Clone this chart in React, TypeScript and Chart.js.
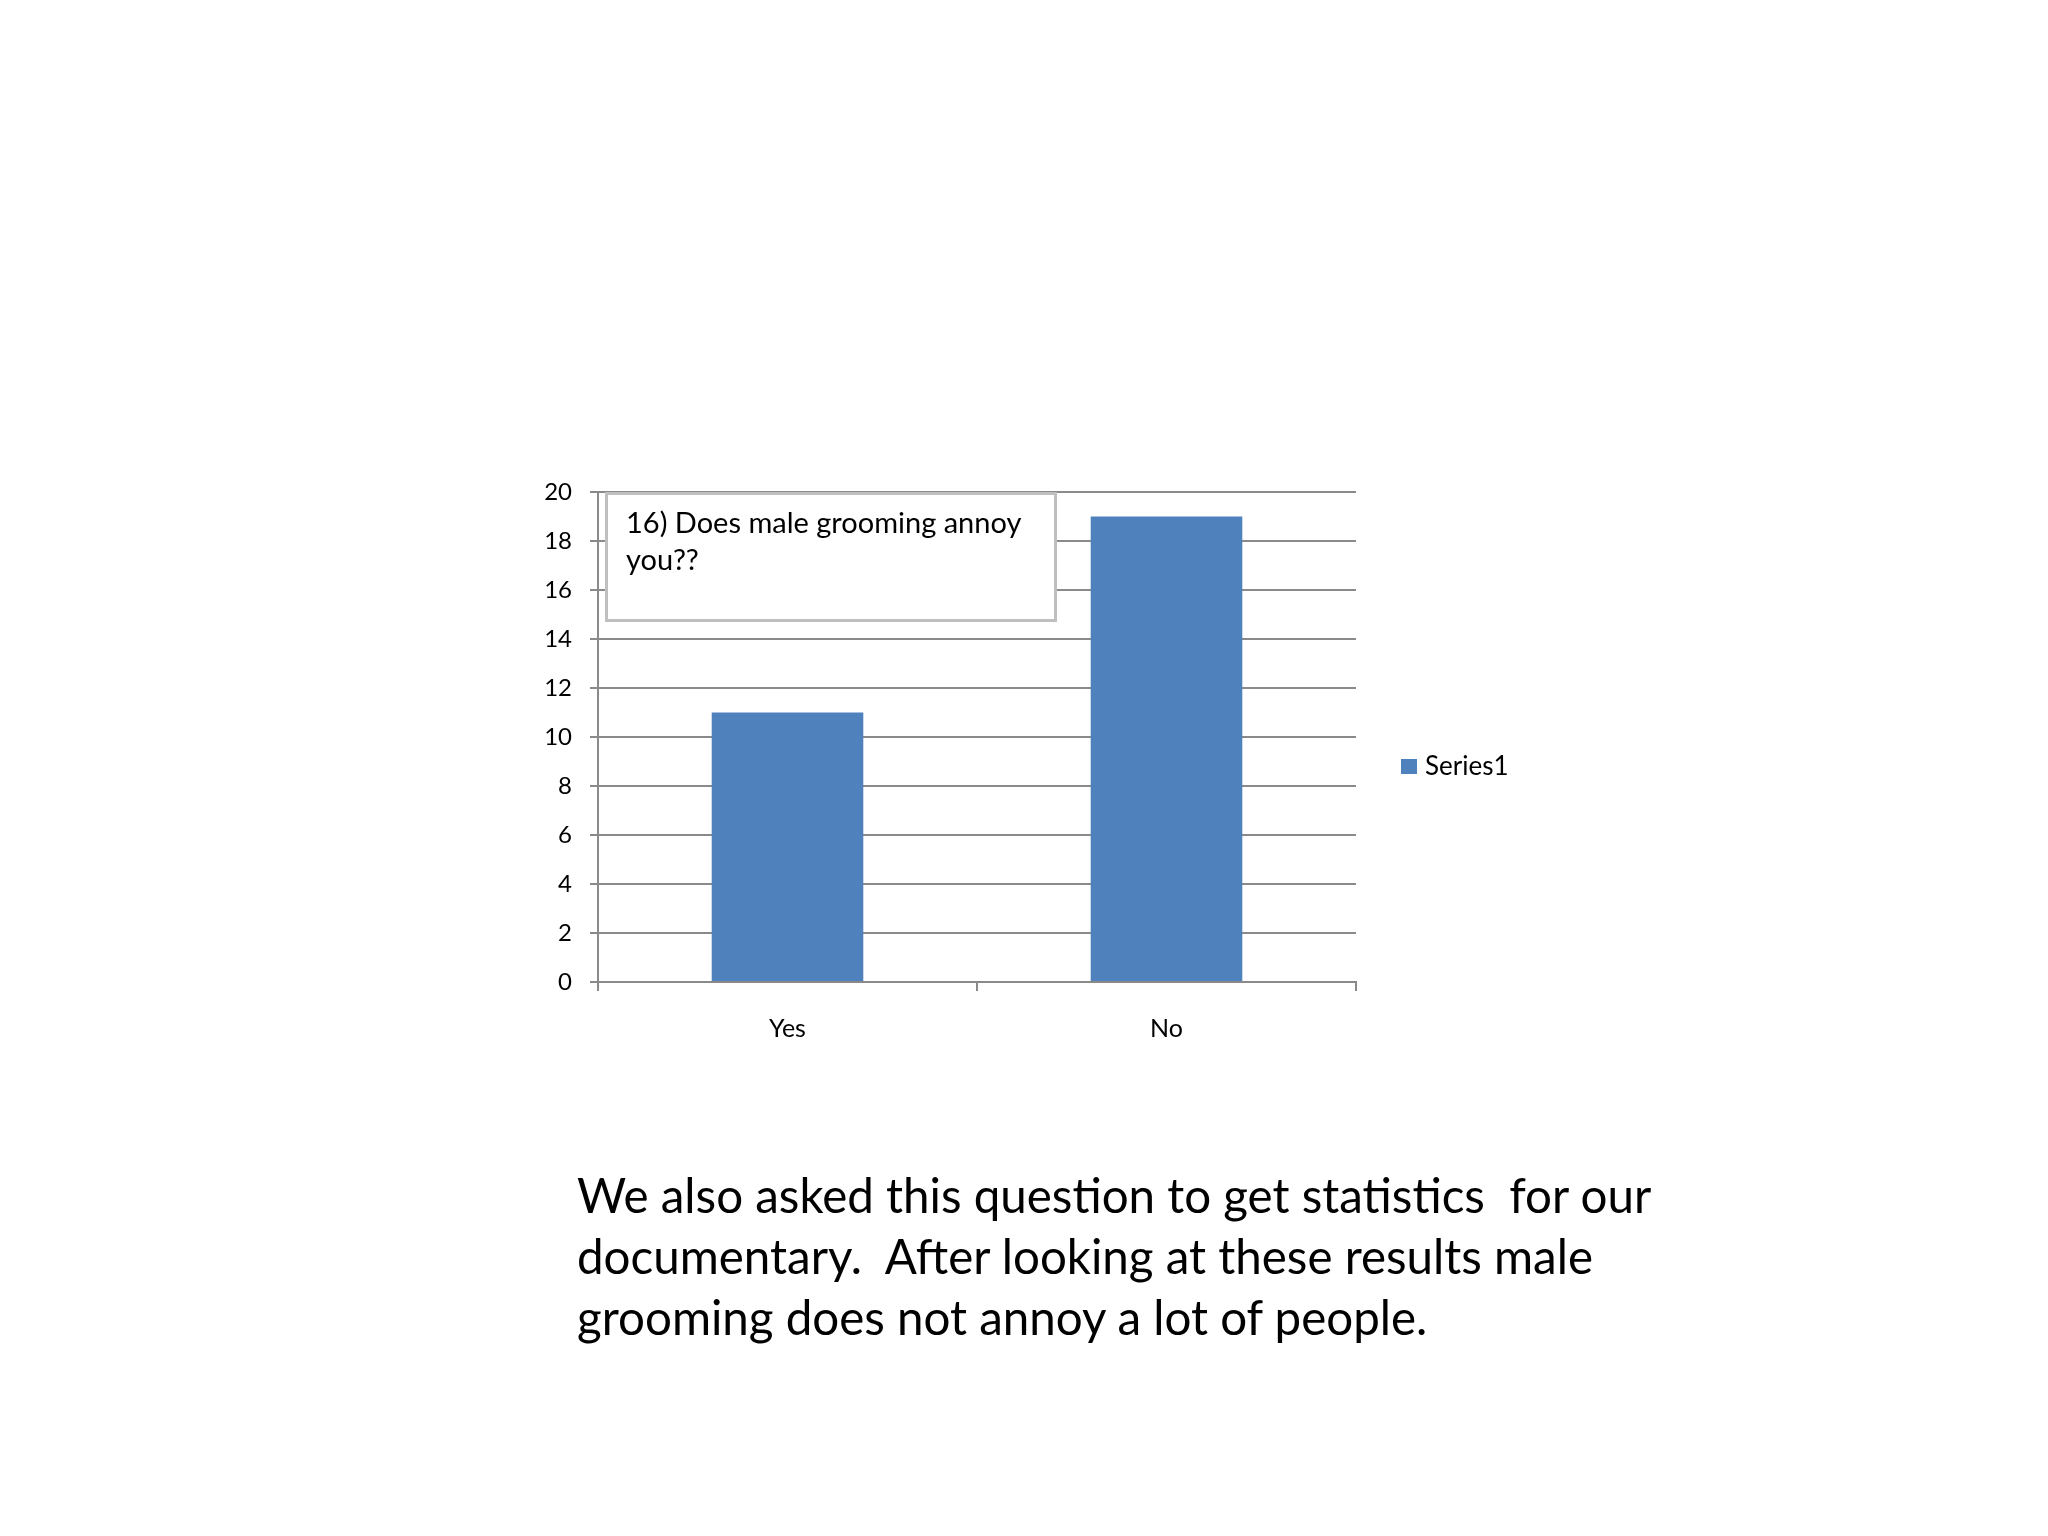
import React, { useEffect, useRef } from "react";
import { Chart, registerables } from "chart.js";

Chart.register(...registerables);

const categories: string[] = ["Yes", "No"];
const seriesName = "Series1";
const seriesValues: number[] = [11, 19];
const yTicks: number[] = [0, 2, 4, 6, 8, 10, 12, 14, 16, 18, 20];
const titleLines: string[] = ["16) Does male grooming annoy", "you??"];
const paragraphLines: string[] = [
  "We also asked this question to get statistics  for our",
  "documentary.  After looking at these results male",
  "grooming does not annoy a lot of people.",
];

const FONT = "Lato, 'Open Sans', sans-serif";
const BAR = "#4F81BD";
const GRID = "#8a8a8a";

const overlayPlugin = {
  id: "overlay",
  afterDraw(chart: any) {
    const { ctx, chartArea } = chart;
    ctx.save();
    // title box
    const bx = chartArea.left + 7;
    const by = chartArea.top;
    const bw = 452;
    const bh = 130;
    ctx.fillStyle = "#ffffff";
    ctx.fillRect(bx, by, bw, bh);
    ctx.strokeStyle = "#bfbfbf";
    ctx.lineWidth = 3;
    ctx.strokeRect(bx + 1.5, by + 1.5, bw - 3, bh - 3);
    ctx.fillStyle = "#000000";
    ctx.font = `29px ${FONT}`;
    ctx.textBaseline = "alphabetic";
    ctx.textAlign = "left";
    titleLines.forEach((line, i) => {
      ctx.fillText(line, bx + 21, by + 41 + i * 37);
    });
    // legend
    const ds = chart.data.datasets[0];
    const lx = chartArea.right + 45;
    const ly = (chartArea.top + chartArea.bottom) / 2 + 30;
    ctx.fillStyle = ds.backgroundColor;
    ctx.fillRect(lx, ly - 8, 16, 15);
    ctx.fillStyle = "#000000";
    ctx.font = `26px ${FONT}`;
    ctx.textBaseline = "middle";
    ctx.fillText(ds.label, lx + 24, ly);
    ctx.restore();
  },
};

export default function App() {
  const ref = useRef<HTMLCanvasElement | null>(null);

  useEffect(() => {
    if (!ref.current) return;
    const chart = new Chart(ref.current, {
      type: "bar",
      data: {
        labels: categories,
        datasets: [
          {
            label: seriesName,
            data: seriesValues,
            backgroundColor: BAR,
            borderWidth: 0,
            barPercentage: 0.4,
            categoryPercentage: 1,
          },
        ],
      },
      options: {
        animation: false,
        responsive: false,
        maintainAspectRatio: false,
        layout: { padding: { left: 500, right: 692, top: 492, bottom: 454 } },
        plugins: {
          legend: { display: false },
          tooltip: { enabled: false },
          title: { display: false },
        },
        scales: {
          x: {
            grid: {
              display: true,
              drawOnChartArea: false,
              drawTicks: true,
              tickLength: 9,
              color: GRID,
              lineWidth: 2,
              offset: true,
            },
            border: { display: true, color: GRID, width: 2 },
            ticks: {
              color: "#000000",
              font: { family: FONT, size: 25 },
              padding: 23,
            },
            afterFit: (scale: any) => {
              scale.height = 100;
            },
          },
          y: {
            min: 0,
            max: 20,
            afterBuildTicks: (scale: any) => {
              scale.ticks = yTicks.map((v) => ({ value: v }));
            },
            grid: {
              display: true,
              drawOnChartArea: true,
              drawTicks: true,
              tickLength: 8,
              color: GRID,
              lineWidth: 2,
            },
            border: { display: true, color: GRID, width: 2 },
            ticks: {
              color: "#000000",
              font: { family: FONT, size: 24 },
              padding: 18,
            },
            afterFit: (scale: any) => {
              scale.width = 98;
            },
          },
        },
      },
      plugins: [overlayPlugin],
    });
    return () => chart.destroy();
  }, []);

  return (
    <div style={{ position: "absolute", left: 0, top: 0, width: 2048, height: 1536, background: "#fff" }}>
      <canvas ref={ref} width={2048} height={1536} style={{ position: "absolute", left: 0, top: 0, width: 2048, height: 1536 }} />
      <div
        style={{
          position: "absolute",
          left: 577,
          top: 1164,
          fontFamily: FONT,
          fontSize: 47.5,
          lineHeight: "61px",
          color: "#000",
          whiteSpace: "pre",
        }}
      >
        {paragraphLines.map((l, i) => (
          <div key={i}>{l}</div>
        ))}
      </div>
    </div>
  );
}
